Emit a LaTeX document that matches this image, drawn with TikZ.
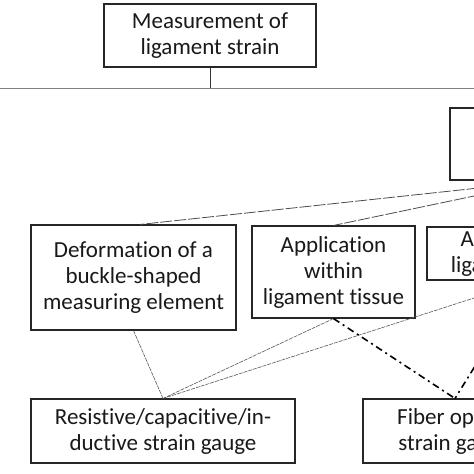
\documentclass[tikz,border=0pt]{standalone}
\usepackage{fontspec}
\setmainfont{Carlito}[Ligatures=NoCommon]
\begin{document}
\begin{tikzpicture}[x=1pt,y=-1pt,
  box/.style={draw=black!85,line width=1.1pt,inner sep=0pt,align=center,
    font=\fontsize{23}{26}\selectfont,text=black!90},
  hline/.style={draw=black!50,line width=1pt},
  stem/.style={draw=black!80,line width=1pt},
  longdash/.style={draw=black!70,line width=0.8pt,dash pattern=on 12pt off 2pt},
  finedash/.style={draw=black!65,line width=0.6pt,dash pattern=on 4pt off 1pt},
  dashdot/.style={draw=black,line width=1.6pt,dash pattern=on 7pt off 4pt on 2pt off 4pt}]
\clip (0,0) rectangle (474,474);
\fill[white] (0,0) rectangle (474,474);
% nodes
\node[box,minimum width=212,minimum height=63] (top) at (210,35.5) {Measurement of\\ligament strain};
\node[box,minimum width=196,minimum height=72] (right) at (548,144) {};
\node[box,minimum width=205,minimum height=105] (deform) at (133.5,277.5) {Deformation of a\\buckle-shaped\\measuring element};
\node[box,minimum width=163,minimum height=92] (app) at (333.5,272) {Application\\within\\ligament tissue};
\node[box,minimum width=202,minimum height=53] (surf) at (528,253.5) {Application on\\ligament surface};
\node[box,minimum width=264,minimum height=64] (resist) at (163,431) {Resistive/capacitive/in-\\ductive strain gauge};
\node[box,minimum width=184,minimum height=64] (fiber) at (455,431) {Fiber optical\\strain gauge};
% top connector
\coordinate (jn) at (210,88);
\coordinate (hl) at (0,88);
\coordinate (hr) at (474,88);
\draw[hline] (hl) -- (hr);
\draw[stem] (top.south) -- (jn);
% connectors
\draw[longdash] (right.south) -- ([xshift=6.5]deform.north);
\draw[longdash] (right.south) -- (app.north);
\draw[finedash] (deform.south) -- (resist.north);
\draw[finedash] (app.south) -- (resist.north);
\draw[finedash] (surf.south) -- (resist.north);
\draw[dashdot] (app.south) -- (fiber.north);
\draw[dashdot] (surf.south) -- (fiber.north);
\end{tikzpicture}
\end{document}
